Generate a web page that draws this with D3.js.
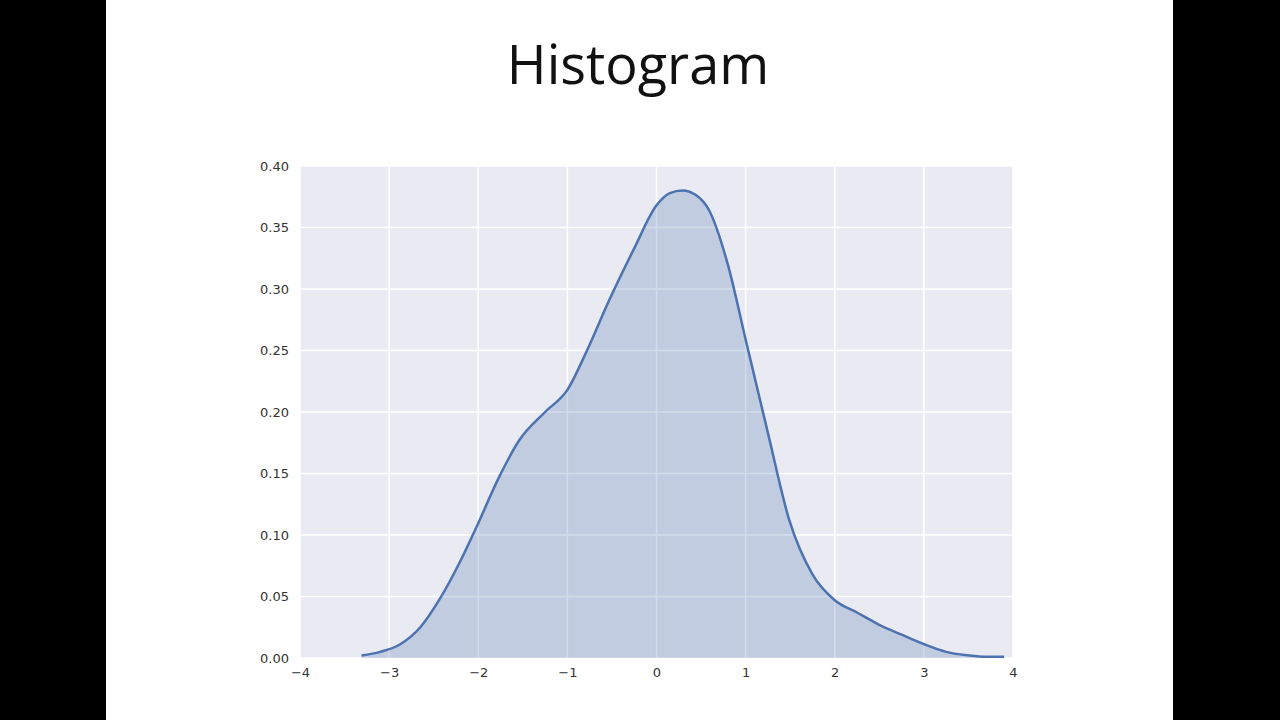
<!DOCTYPE html>
<html><head><meta charset="utf-8">
<script src="https://cdn.jsdelivr.net/npm/d3@7"></script>
<style>body{margin:0;background:#000;}</style>
</head><body>
<svg id="c" width="1280" height="720"></svg>
<script>
const xs = [-3.31,-3.1,-2.88,-2.65,-2.44,-2.22,-2.01,-1.78,-1.54,-1.25,-1.0,-0.78,-0.53,-0.25,0,0.15,0.29,0.45,0.59,0.8,1.0,1.25,1.49,1.75,2.0,2.25,2.5,2.75,3.01,3.25,3.51,3.7,3.9];
const ys = [0.002,0.005,0.011,0.025,0.047,0.076,0.108,0.145,0.177,0.200,0.218,0.250,0.291,0.333,0.368,0.378,0.380,0.376,0.364,0.320,0.259,0.183,0.112,0.068,0.047,0.037,0.027,0.019,0.011,0.005,0.002,0.001,0.001];
const xTicks = [-4,-3,-2,-1,0,1,2,3,4];
const yTicks = [0,0.05,0.10,0.15,0.20,0.25,0.30,0.35,0.40];
const svg = d3.select("#c");
svg.append("rect").attr("x",106).attr("y",0).attr("width",1067).attr("height",720).attr("fill","#fff");
svg.append("text").attr("x",638).attr("y",84).attr("text-anchor","middle").attr("font-family","Open Sans, Liberation Sans, sans-serif").attr("font-size",54).attr("fill","#111").text("Histogram");
const x = d3.scaleLinear().domain([-4,4]).range([300,1013]);
const y = d3.scaleLinear().domain([0,0.4]).range([658,166]);
svg.append("rect").attr("x",300).attr("y",166).attr("width",713).attr("height",492).attr("fill","#eaeaf2");
const g = svg.append("g");
g.selectAll(".vx").data(xTicks).join("line").attr("x1",d=>x(d)).attr("x2",d=>x(d)).attr("y1",166).attr("y2",658).attr("stroke","#fff").attr("stroke-width",1.5);
g.selectAll(".hy").data(yTicks).join("line").attr("y1",d=>y(d)).attr("y2",d=>y(d)).attr("x1",300).attr("x2",1013).attr("stroke","#fff").attr("stroke-width",1.5);
const data = xs.map((v,i)=>[v,ys[i]]);
svg.append("path").datum(data).attr("d",d3.area().x(d=>x(d[0])).y0(y(0)).y1(d=>y(d[1])).curve(d3.curveMonotoneX)).attr("fill","#4c72b0").attr("fill-opacity",0.25);
svg.append("path").datum(data).attr("d",d3.line().x(d=>x(d[0])).y(d=>y(d[1])).curve(d3.curveMonotoneX)).attr("fill","none").attr("stroke","#4c72b0").attr("stroke-width",2.5);
const xa = svg.append("g").attr("transform","translate(0,665)").call(d3.axisBottom(x).tickValues(xTicks).tickSize(0).tickFormat(d=>d<0?"\u2212"+(-d):d));
const ya = svg.append("g").attr("transform","translate(292,0)").call(d3.axisLeft(y).tickValues(yTicks).tickSize(0).tickFormat(d3.format(".2f")));
[xa,ya].forEach(a=>{a.select(".domain").remove();a.selectAll("text").attr("font-family","DejaVu Sans, sans-serif").attr("font-size",13).attr("fill","#333");});
</script>
</body></html>
